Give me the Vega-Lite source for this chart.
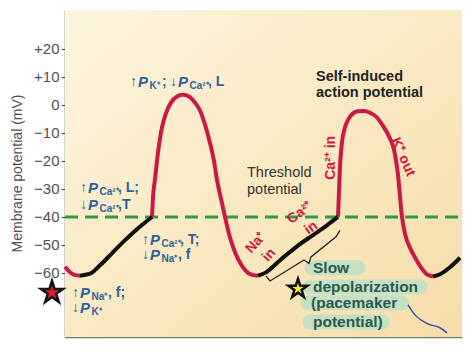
{
  "$schema": "https://vega.github.io/schema/vega-lite/v6.json",
  "width": 397,
  "height": 327,
  "autosize": {"type": "none"},
  "padding": {"left": 65, "top": 10, "right": 12, "bottom": 23},
  "background": "white",
  "config": {
    "font": "Liberation Sans",
    "view": {"stroke": null, "fill": "#fbecc9"}
  },
  "datasets": {
    "curve": [
      {"seg": 1, "ph": "r", "t": 0, "v": -57.8}, {"seg": 1, "ph": "r", "t": 5, "v": -59.8}, {"seg": 1, "ph": "r", "t": 10, "v": -60.8}, {"seg": 1, "ph": "r", "t": 15, "v": -61},
      {"seg": 2, "ph": "k", "t": 15, "v": -61}, {"seg": 2, "ph": "k", "t": 25, "v": -60.3}, {"seg": 2, "ph": "k", "t": 35, "v": -57.3}, {"seg": 2, "ph": "k", "t": 47, "v": -53}, {"seg": 2, "ph": "k", "t": 58, "v": -49}, {"seg": 2, "ph": "k", "t": 70, "v": -45}, {"seg": 2, "ph": "k", "t": 80, "v": -42}, {"seg": 2, "ph": "k", "t": 87, "v": -40},
      {"seg": 3, "ph": "r", "t": 87, "v": -40}, {"seg": 3, "ph": "r", "t": 88, "v": -33}, {"seg": 3, "ph": "r", "t": 90, "v": -26.5}, {"seg": 3, "ph": "r", "t": 93, "v": -17}, {"seg": 3, "ph": "r", "t": 97, "v": -8}, {"seg": 3, "ph": "r", "t": 101, "v": -3}, {"seg": 3, "ph": "r", "t": 106, "v": 0.8}, {"seg": 3, "ph": "r", "t": 112, "v": 3}, {"seg": 3, "ph": "r", "t": 118, "v": 3.6}, {"seg": 3, "ph": "r", "t": 124, "v": 3}, {"seg": 3, "ph": "r", "t": 130, "v": 0.8}, {"seg": 3, "ph": "r", "t": 135, "v": -2}, {"seg": 3, "ph": "r", "t": 140, "v": -7}, {"seg": 3, "ph": "r", "t": 145, "v": -13.6}, {"seg": 3, "ph": "r", "t": 149, "v": -20}, {"seg": 3, "ph": "r", "t": 152, "v": -26.8}, {"seg": 3, "ph": "r", "t": 156, "v": -33.5}, {"seg": 3, "ph": "r", "t": 160, "v": -40}, {"seg": 3, "ph": "r", "t": 164, "v": -46}, {"seg": 3, "ph": "r", "t": 168, "v": -50.7}, {"seg": 3, "ph": "r", "t": 173, "v": -55}, {"seg": 3, "ph": "r", "t": 178, "v": -58}, {"seg": 3, "ph": "r", "t": 183, "v": -60}, {"seg": 3, "ph": "r", "t": 188, "v": -60.8}, {"seg": 3, "ph": "r", "t": 193, "v": -61},
      {"seg": 4, "ph": "k", "t": 193, "v": -61}, {"seg": 4, "ph": "k", "t": 200, "v": -60}, {"seg": 4, "ph": "k", "t": 208, "v": -57.8}, {"seg": 4, "ph": "k", "t": 215, "v": -55.5}, {"seg": 4, "ph": "k", "t": 232, "v": -50.5}, {"seg": 4, "ph": "k", "t": 248, "v": -46.5}, {"seg": 4, "ph": "k", "t": 262, "v": -43}, {"seg": 4, "ph": "k", "t": 273, "v": -40},
      {"seg": 5, "ph": "r", "t": 273, "v": -40}, {"seg": 5, "ph": "r", "t": 274, "v": -31}, {"seg": 5, "ph": "r", "t": 275, "v": -22}, {"seg": 5, "ph": "r", "t": 276.5, "v": -15}, {"seg": 5, "ph": "r", "t": 280, "v": -8}, {"seg": 5, "ph": "r", "t": 284, "v": -4.8}, {"seg": 5, "ph": "r", "t": 288, "v": -3}, {"seg": 5, "ph": "r", "t": 293, "v": -2.3}, {"seg": 5, "ph": "r", "t": 299, "v": -2.2}, {"seg": 5, "ph": "r", "t": 305, "v": -2.8}, {"seg": 5, "ph": "r", "t": 312, "v": -4.5}, {"seg": 5, "ph": "r", "t": 318, "v": -7.5}, {"seg": 5, "ph": "r", "t": 325, "v": -12}, {"seg": 5, "ph": "r", "t": 329, "v": -16}, {"seg": 5, "ph": "r", "t": 333, "v": -25}, {"seg": 5, "ph": "r", "t": 337, "v": -40}, {"seg": 5, "ph": "r", "t": 340, "v": -46}, {"seg": 5, "ph": "r", "t": 345, "v": -51}, {"seg": 5, "ph": "r", "t": 350, "v": -54.5}, {"seg": 5, "ph": "r", "t": 356, "v": -58}, {"seg": 5, "ph": "r", "t": 362, "v": -60.5}, {"seg": 5, "ph": "r", "t": 368, "v": -61.3},
      {"seg": 6, "ph": "k", "t": 368, "v": -61.3}, {"seg": 6, "ph": "k", "t": 375, "v": -60.5}, {"seg": 6, "ph": "k", "t": 385, "v": -58}, {"seg": 6, "ph": "k", "t": 395, "v": -54.6}
    ],
    "ann": [
      {"k": "arrow", "s": "↑", "t": 65, "v": 8.2}, {"k": "P", "s": "P", "t": 73, "v": 8.2}, {"k": "sub", "s": "K⁺", "t": 84.5, "v": 6.8}, {"k": "tail", "s": ";", "t": 97, "v": 8.2},
      {"k": "arrow", "s": "↓", "t": 105, "v": 8.2}, {"k": "P", "s": "P", "t": 113, "v": 8.2}, {"k": "sub", "s": "Ca²⁺", "t": 124.5, "v": 6.8}, {"k": "tail", "s": ", L", "t": 143, "v": 8.2},
      {"k": "arrow", "s": "↑", "t": 15, "v": -29.6}, {"k": "P", "s": "P", "t": 23, "v": -29.6}, {"k": "sub", "s": "Ca²⁺", "t": 34.5, "v": -31}, {"k": "tail", "s": ", L;", "t": 53, "v": -29.6},
      {"k": "arrow", "s": "↓", "t": 15, "v": -35.7}, {"k": "P", "s": "P", "t": 23, "v": -35.7}, {"k": "sub", "s": "Ca²⁺", "t": 34.5, "v": -37.1}, {"k": "tail", "s": ",T", "t": 53, "v": -35.7},
      {"k": "arrow", "s": "↑", "t": 77, "v": -48.2}, {"k": "P", "s": "P", "t": 85, "v": -48.2}, {"k": "sub", "s": "Ca²⁺", "t": 96.5, "v": -49.6}, {"k": "tail", "s": ", T;", "t": 115, "v": -48.2},
      {"k": "arrow", "s": "↓", "t": 77, "v": -53.6}, {"k": "P", "s": "P", "t": 85, "v": -53.6}, {"k": "sub", "s": "Na⁺", "t": 96.5, "v": -55}, {"k": "tail", "s": ", f", "t": 113, "v": -53.6},
      {"k": "arrow", "s": "↑", "t": 7, "v": -67.1}, {"k": "P", "s": "P", "t": 15, "v": -67.1}, {"k": "sub", "s": "Na⁺", "t": 26.5, "v": -68.5}, {"k": "tail", "s": ", f;", "t": 43, "v": -67.1},
      {"k": "arrow", "s": "↓", "t": 7, "v": -72.5}, {"k": "P", "s": "P", "t": 15, "v": -72.5}, {"k": "sub", "s": "K⁺", "t": 26.5, "v": -73.9}
    ]
  },
  "encoding": {
    "x": {"field": "t", "type": "quantitative", "scale": {"domain": [0, 397], "nice": false, "zero": false},
      "axis": {"title": null, "labels": false, "ticks": false, "grid": false, "domainColor": "#777", "domainWidth": 1.5}},
    "y": {"field": "v", "type": "quantitative", "scale": {"domain": [-82.9, 33.9], "nice": false, "zero": false},
      "axis": {"title": "Membrane potential (mV)", "values": [20, 10, 0, -10, -20, -30, -40, -50, -60],
        "labelExpr": "datum.value > 0 ? '+' + datum.value : (datum.value < 0 ? '−' + (-datum.value) : '0')",
        "grid": false, "domainColor": "#555", "domainWidth": 1.5, "tickColor": "#555", "tickSize": 4, "tickWidth": 1.2,
        "labelFontSize": 15, "labelColor": "#505050", "labelPadding": 2,
        "titleFontSize": 14, "titleFontWeight": "normal", "titleColor": "#505050", "titleX": -48, "titleY": 163, "titleBaseline": "middle", "titleAngle": 270}}
  },
  "layer": [
    {
      "data": {"values": [{"t": 0, "t2": 397, "v": 33.9, "v2": -82.9}]},
      "mark": {"type": "rect", "fill": {"gradient": "linear", "x1": 0, "y1": 0, "x2": 1, "y2": 1,
        "stops": [{"offset": 0, "color": "#fdf5df"}, {"offset": 0.6, "color": "#f9e7bd"}, {"offset": 1, "color": "#f6dcaa"}]}},
      "encoding": {"x2": {"field": "t2"}, "y2": {"field": "v2"}}
    },
    {
      "data": {"values": [
        {"t": 247, "t2": 293, "v": -58.2}, {"t": 245, "t2": 355, "v": -65}, {"t": 243, "t2": 337, "v": -70.7}, {"t": 245, "t2": 317, "v": -77.5}
      ]},
      "mark": {"type": "rule", "color": "#bfe0c5", "strokeWidth": 15, "strokeCap": "round", "opacity": 0.9},
      "encoding": {"x2": {"field": "t2"}}
    },
    {
      "data": {"values": [{"t": 0, "t2": 397, "v": -40}]},
      "mark": {"type": "rule", "color": "#2e9c3e", "strokeWidth": 3, "strokeDash": [13, 7]},
      "encoding": {"x2": {"field": "t2"}}
    },
    {
      "data": {"name": "curve"},
      "transform": [{"filter": "datum.ph == 'r'"}],
      "mark": {"type": "line", "strokeWidth": 4, "color": "#cc1845", "interpolate": "monotone"},
      "encoding": {"detail": {"field": "seg", "type": "nominal"}, "order": {"field": "t"}}
    },
    {
      "data": {"name": "curve"},
      "transform": [{"filter": "datum.ph == 'k'"}],
      "mark": {"type": "line", "strokeWidth": 4, "color": "#111111", "interpolate": "monotone"},
      "encoding": {"detail": {"field": "seg", "type": "nominal"}, "order": {"field": "t"}}
    },
    {
      "data": {"values": [
        {"i": 1, "t": 201, "v": -61.1}, {"i": 2, "t": 205, "v": -62.9}, {"i": 3, "t": 239, "v": -55.4}, {"i": 4, "t": 244, "v": -56.6}, {"i": 5, "t": 246, "v": -54.3}, {"i": 6, "t": 271, "v": -47.1}, {"i": 7, "t": 275, "v": -44.8}
      ]},
      "mark": {"type": "line", "color": "#222", "strokeWidth": 1.3},
      "encoding": {"order": {"field": "i"}}
    },
    {
      "data": {"values": [
        {"i": 1, "t": 343, "v": -71.4}, {"i": 2, "t": 350, "v": -75}, {"i": 3, "t": 363, "v": -78.2}, {"i": 4, "t": 375, "v": -79.6}, {"i": 5, "t": 382, "v": -81.4}
      ]},
      "mark": {"type": "line", "color": "#3550a8", "strokeWidth": 1.5, "interpolate": "monotone"},
      "encoding": {"order": {"field": "i"}}
    },
    {
      "data": {"name": "ann"},
      "transform": [{"filter": "datum.k == 'arrow'"}],
      "mark": {"type": "text", "align": "left", "baseline": "middle", "fontSize": 14, "color": "#2f5fa0"},
      "encoding": {"text": {"field": "s"}}
    },
    {
      "data": {"name": "ann"},
      "transform": [{"filter": "datum.k == 'P'"}],
      "mark": {"type": "text", "align": "left", "baseline": "middle", "fontSize": 15, "fontWeight": "bold", "fontStyle": "italic", "color": "#2f5fa0"},
      "encoding": {"text": {"field": "s"}}
    },
    {
      "data": {"name": "ann"},
      "transform": [{"filter": "datum.k == 'sub'"}],
      "mark": {"type": "text", "align": "left", "baseline": "middle", "fontSize": 10, "fontWeight": "bold", "color": "#2f5fa0"},
      "encoding": {"text": {"field": "s"}}
    },
    {
      "data": {"name": "ann"},
      "transform": [{"filter": "datum.k == 'tail'"}],
      "mark": {"type": "text", "align": "left", "baseline": "middle", "fontSize": 14, "fontWeight": "bold", "color": "#2f5fa0"},
      "encoding": {"text": {"field": "s"}}
    },
    {
      "data": {"values": [
        {"s": "Self-induced", "t": 251, "v": 10}, {"s": "action potential", "t": 251, "v": 4.3}
      ]},
      "mark": {"type": "text", "align": "left", "baseline": "middle", "fontSize": 14.5, "fontWeight": "bold", "color": "#222"},
      "encoding": {"text": {"field": "s"}}
    },
    {
      "data": {"values": [
        {"s": "Threshold", "t": 182, "v": -24.3}, {"s": "potential", "t": 182, "v": -30.4}
      ]},
      "mark": {"type": "text", "align": "left", "baseline": "middle", "fontSize": 14.5, "color": "#333"},
      "encoding": {"text": {"field": "s"}}
    },
    {
      "data": {"values": [
        {"s": "Slow", "t": 248, "v": -58.2}, {"s": "depolarization", "t": 248, "v": -65}, {"s": "(pacemaker", "t": 246, "v": -70.7}, {"s": "potential)", "t": 248, "v": -77.5}
      ]},
      "mark": {"type": "text", "align": "left", "baseline": "middle", "fontSize": 15.5, "fontWeight": "bold", "color": "#2b5a4f"},
      "encoding": {"text": {"field": "s"}}
    },
    {
      "data": {"values": [{"s": "Ca²⁺ in", "t": 265.5, "v": -18.9}]},
      "mark": {"type": "text", "align": "center", "baseline": "middle", "fontSize": 14, "fontWeight": "bold", "color": "#cc1845", "angle": 270},
      "encoding": {"text": {"field": "s"}}
    },
    {
      "data": {"values": [{"s": "K⁺ out", "t": 338, "v": -18.6}]},
      "mark": {"type": "text", "align": "center", "baseline": "middle", "fontSize": 14, "fontWeight": "bold", "color": "#cc1845", "angle": 66},
      "encoding": {"text": {"field": "s"}}
    },
    {
      "data": {"values": [{"s": "Ca²⁺", "t": 235, "v": -38.6}, {"s": "in", "t": 246, "v": -43.9}]},
      "mark": {"type": "text", "align": "center", "baseline": "middle", "fontSize": 14, "fontWeight": "bold", "color": "#cc1845", "angle": 325},
      "encoding": {"text": {"field": "s"}}
    },
    {
      "data": {"values": [{"s": "Na⁺", "t": 191, "v": -49.3}, {"s": "in", "t": 204, "v": -53.6}]},
      "mark": {"type": "text", "align": "center", "baseline": "middle", "fontSize": 14, "fontWeight": "bold", "color": "#cc1845", "angle": 312},
      "encoding": {"text": {"field": "s"}}
    },
    {
      "data": {"values": [{"t": -13, "v": -67}]},
      "mark": {"type": "point", "shape": "M0,-1L0.2245,-0.309L0.9511,-0.309L0.3633,0.118L0.5878,0.809L0,0.382L-0.5878,0.809L-0.3633,0.118L-0.9511,-0.309L-0.2245,-0.309Z", "size": 540, "filled": true, "fill": "#e0182e", "stroke": "#111", "strokeWidth": 2.5, "opacity": 1}
    },
    {
      "data": {"values": [{"t": 233, "v": -65.7}]},
      "mark": {"type": "point", "shape": "M0,-1L0.2245,-0.309L0.9511,-0.309L0.3633,0.118L0.5878,0.809L0,0.382L-0.5878,0.809L-0.3633,0.118L-0.9511,-0.309L-0.2245,-0.309Z", "size": 400, "filled": true, "fill": "#f4ee3a", "stroke": "#111", "strokeWidth": 2.5, "opacity": 1}
    }
  ]
}
